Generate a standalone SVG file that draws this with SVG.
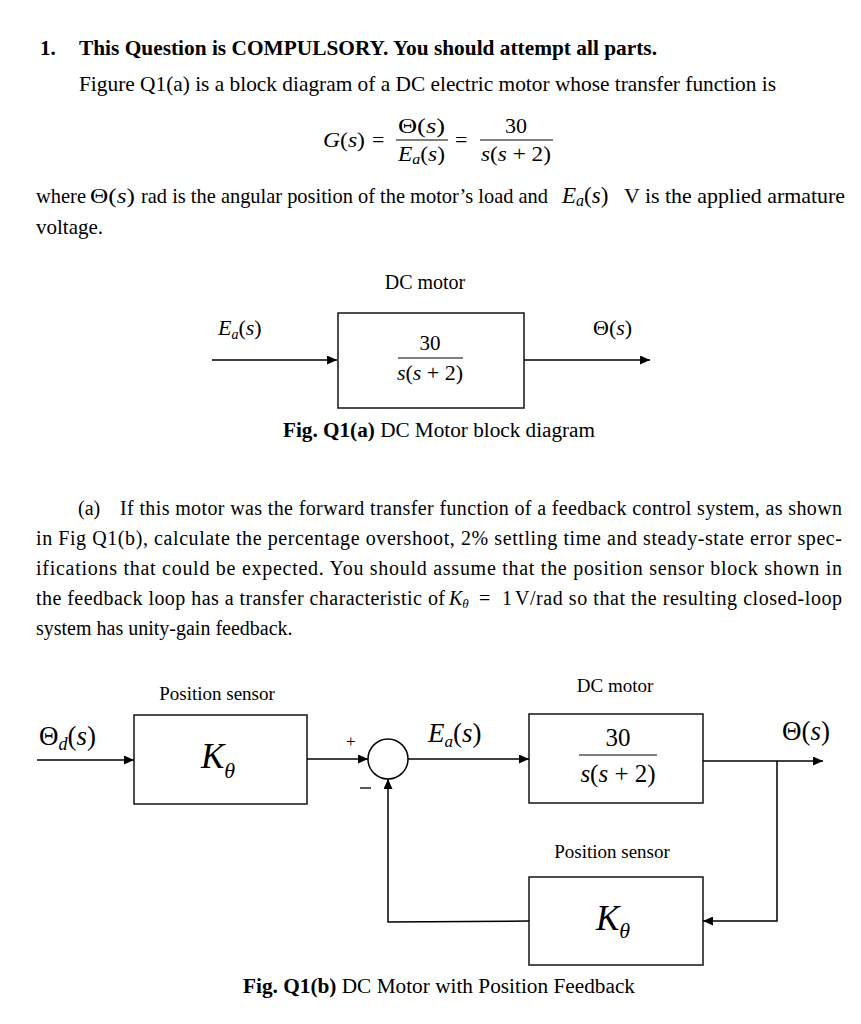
<svg xmlns="http://www.w3.org/2000/svg" width="861" height="1024" viewBox="0 0 861 1024">
<style>
.t{font-family:"Liberation Serif","Times New Roman",serif;fill:#000}
.i{font-style:italic}
.b{font-weight:bold}
.ln{stroke:#000;stroke-width:1.5;fill:none}
.box{stroke:#222;stroke-width:1.6;fill:#fff}
.bar{stroke:#000;stroke-width:1.2}
</style>
<defs>
<marker id="ah" viewBox="0 0 10 9" refX="10" refY="4.5" markerWidth="10" markerHeight="9" markerUnits="userSpaceOnUse" orient="auto"><path d="M0,0 L10,4.5 L0,9 z" fill="#000"/></marker>
</defs>
<rect width="861" height="1024" fill="#fff"/>

<g id="header">
<text x="40" y="55" class="t b" font-size="21">1.</text>
<text x="79" y="55" class="t b" font-size="21" textLength="578" lengthAdjust="spacingAndGlyphs">This Question is COMPULSORY. You should attempt all parts.</text>
<text x="79" y="91" class="t" font-size="21" textLength="697" lengthAdjust="spacingAndGlyphs">Figure Q1(a) is a block diagram of a DC electric motor whose transfer function is</text>
</g>

<g id="formula" class="t" font-size="22">
<text x="323" y="147" textLength="42" lengthAdjust="spacingAndGlyphs"><tspan class="i">G</tspan>(<tspan class="i">s</tspan>)</text>
<text x="372" y="147">=</text>
<text x="398" y="133" textLength="47" lengthAdjust="spacingAndGlyphs">Θ(<tspan class="i">s</tspan>)</text>
<line x1="396" y1="140" x2="448" y2="140" class="bar"/>
<text x="398" y="161" textLength="47" lengthAdjust="spacingAndGlyphs"><tspan class="i">E</tspan><tspan class="i" font-size="15" dy="3">a</tspan><tspan dy="-3">(</tspan><tspan class="i">s</tspan>)</text>
<text x="455" y="147">=</text>
<text x="516" y="133" text-anchor="middle">30</text>
<line x1="480" y1="140" x2="553" y2="140" class="bar"/>
<text x="481" y="161" textLength="70" lengthAdjust="spacingAndGlyphs"><tspan class="i">s</tspan>(<tspan class="i">s</tspan> + 2)</text>
</g>

<g id="where" class="t" font-size="21">
<text x="36" y="203" textLength="50" lengthAdjust="spacingAndGlyphs">where</text>
<text x="90" y="203" textLength="45" lengthAdjust="spacingAndGlyphs">Θ(<tspan class="i">s</tspan>)</text>
<text x="141" y="203" textLength="407" lengthAdjust="spacingAndGlyphs">rad is the angular position of the motor’s load and</text>
<text x="562" y="203" font-size="23"><tspan class="i">E</tspan><tspan class="i" font-size="16" dy="3">a</tspan><tspan dy="-3">(</tspan><tspan class="i">s</tspan>)</text>
<text x="624" y="203" textLength="221" lengthAdjust="spacingAndGlyphs">V is the applied armature</text>
<text x="36" y="234" textLength="67" lengthAdjust="spacingAndGlyphs">voltage.</text>
</g>

<g id="figA-motor">
<rect x="338" y="313" width="186" height="95" class="box"/>
<text x="425" y="289" class="t" font-size="20" text-anchor="middle">DC motor</text>
<text x="430" y="350" class="t" font-size="21" text-anchor="middle">30</text>
<line x1="398" y1="358" x2="463" y2="358" class="bar"/>
<text x="430" y="380" class="t" font-size="22" text-anchor="middle"><tspan class="i">s</tspan>(<tspan class="i">s</tspan> + 2)</text>
</g>
<g id="figA-labels" class="t" font-size="22">
<text x="218" y="335"><tspan class="i">E</tspan><tspan class="i" font-size="14" dy="4">a</tspan><tspan dy="-4">(</tspan><tspan class="i">s</tspan>)</text>
<text x="593" y="335">Θ(<tspan class="i">s</tspan>)</text>
</g>
<g id="figA-connectors">
<line x1="212" y1="360" x2="337" y2="360" class="ln" marker-end="url(#ah)"/>
<line x1="524" y1="360" x2="650" y2="360" class="ln" marker-end="url(#ah)"/>
</g>
<text x="283" y="437" class="t" font-size="20" textLength="312" lengthAdjust="spacingAndGlyphs"><tspan class="b">Fig. Q1(a)</tspan> DC Motor block diagram</text>

<g id="paragraph" class="t" font-size="20">
<text x="78" y="515">(a)</text>
<text x="120" y="515" textLength="722" lengthAdjust="spacing">If this motor was the forward transfer function of a feedback control system, as shown</text>
<text x="36" y="545" textLength="806" lengthAdjust="spacing">in Fig Q1(b), calculate the percentage overshoot, 2% settling time and steady-state error spec-</text>
<text x="36" y="575" textLength="806" lengthAdjust="spacing">ifications that could be expected.  You should assume that the position sensor block shown in</text>
<text x="36" y="605" textLength="409" lengthAdjust="spacing">the feedback loop has a transfer characteristic of</text>
<text x="449" y="605"><tspan class="i">K</tspan><tspan class="i" font-size="13" dy="3">θ</tspan></text>
<text x="479" y="605">=</text>
<text x="502" y="605">1</text>
<text x="515" y="605" textLength="327" lengthAdjust="spacing">V/rad so that the resulting closed-loop</text>
<text x="36" y="635">system has unity-gain feedback.</text>
</g>

<g id="figB-sensor1">
<rect x="134" y="715" width="173" height="89" class="box"/>
<text x="217" y="700" class="t" font-size="19" text-anchor="middle">Position sensor</text>
<text x="201" y="768" class="t i" font-size="35">K<tspan font-size="22" dy="10">θ</tspan></text>
</g>
<g id="figB-sum">
<circle cx="388" cy="759" r="20" class="ln"/>
<text x="346" y="747" class="t" font-size="17">+</text>
<line x1="360" y1="788" x2="371" y2="788" stroke="#000" stroke-width="1.3"/>
</g>
<g id="figB-motor">
<rect x="529" y="714" width="174" height="89" class="box"/>
<text x="615" y="692" class="t" font-size="19" text-anchor="middle">DC motor</text>
<text x="618" y="746" class="t" font-size="25" text-anchor="middle">30</text>
<line x1="579" y1="755" x2="657" y2="755" class="bar"/>
<text x="618" y="782" class="t" font-size="25" text-anchor="middle"><tspan class="i">s</tspan>(<tspan class="i">s</tspan> + 2)</text>
</g>
<g id="figB-sensor2">
<rect x="529" y="877" width="174" height="88" class="box"/>
<text x="612" y="858" class="t" font-size="19" text-anchor="middle">Position sensor</text>
<text x="596" y="930" class="t i" font-size="35">K<tspan font-size="22" dy="8">θ</tspan></text>
</g>
<g id="figB-labels" class="t" font-size="27">
<text x="39" y="745">Θ<tspan class="i" font-size="18" dy="5">d</tspan><tspan dy="-5">(</tspan><tspan class="i">s</tspan>)</text>
<text x="428" y="742"><tspan class="i">E</tspan><tspan class="i" font-size="17" dy="5">a</tspan><tspan dy="-5">(</tspan><tspan class="i">s</tspan>)</text>
<text x="782" y="740">Θ(<tspan class="i">s</tspan>)</text>
</g>
<g id="figB-connectors">
<line x1="37" y1="760" x2="134" y2="760" class="ln" marker-end="url(#ah)"/>
<line x1="307" y1="759" x2="368" y2="759" class="ln" marker-end="url(#ah)"/>
<line x1="408" y1="759" x2="529" y2="759" class="ln" marker-end="url(#ah)"/>
<line x1="703" y1="761" x2="823" y2="761" class="ln" marker-end="url(#ah)"/>
<polyline points="777,761 777,921 703,921" class="ln" marker-end="url(#ah)"/>
<polyline points="529,921 388,922 388,779" class="ln" marker-end="url(#ah)"/>
</g>
<text x="243" y="993" class="t" font-size="20" textLength="392" lengthAdjust="spacingAndGlyphs"><tspan class="b">Fig. Q1(b)</tspan> DC Motor with Position Feedback</text>
</svg>
